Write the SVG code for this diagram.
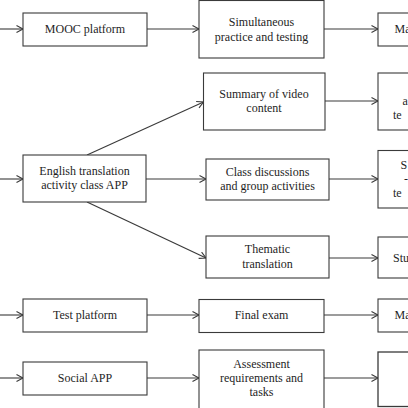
<svg xmlns="http://www.w3.org/2000/svg" width="408" height="408" viewBox="0 0 408 408">
<style>
  .box { fill: #ffffff; stroke: #3a3a3a; stroke-width: 1.1; }
  .lbl { font-family: "Liberation Serif", "Times New Roman", serif; font-size: 12px; fill: #1e1e1e; text-anchor: middle; }
  .frag { font-family: "Liberation Serif", "Times New Roman", serif; font-size: 12px; fill: #1e1e1e; }
  .conn { stroke: #3a3a3a; stroke-width: 1.1; fill: none; marker-end: url(#arr); }
</style>
<defs>
  <marker id="arr" markerUnits="userSpaceOnUse" markerWidth="9" markerHeight="9" refX="7" refY="4" orient="auto">
    <path d="M0.5,0.5 L7,4 L0.5,7.5" fill="none" stroke="#3a3a3a" stroke-width="1.1"/>
  </marker>
</defs>
<rect width="408" height="408" fill="#ffffff"/>

<g id="connectors">
  <line class="conn" x1="0" y1="29" x2="23" y2="29"/>
  <line class="conn" x1="147" y1="29" x2="199" y2="29"/>
  <line class="conn" x1="324" y1="29" x2="378" y2="29"/>
  <line class="conn" x1="87" y1="155" x2="203.5" y2="102"/>
  <line class="conn" x1="325" y1="101" x2="378" y2="101"/>
  <line class="conn" x1="0" y1="179" x2="23" y2="179"/>
  <line class="conn" x1="146" y1="179" x2="206" y2="179"/>
  <line class="conn" x1="329" y1="179" x2="378" y2="179"/>
  <line class="conn" x1="87" y1="202" x2="206" y2="258"/>
  <line class="conn" x1="329" y1="258" x2="378" y2="258"/>
  <line class="conn" x1="0" y1="315" x2="23" y2="315"/>
  <line class="conn" x1="147" y1="315" x2="199" y2="315"/>
  <line class="conn" x1="324" y1="315" x2="378" y2="315"/>
  <line class="conn" x1="0" y1="378" x2="23" y2="378"/>
  <line class="conn" x1="147" y1="378" x2="199" y2="378"/>
  <line class="conn" x1="324" y1="378" x2="378" y2="378"/>
</g>

<g id="mooc">
  <rect class="box" x="23" y="13" width="124" height="33"/>
  <text class="lbl" x="85" y="33">MOOC platform</text>
</g>
<g id="simultaneous">
  <rect class="box" x="199" y="0.5" width="125" height="57.5"/>
  <text class="lbl" x="261.5" y="26">Simultaneous</text>
  <text class="lbl" x="261.5" y="41">practice and testing</text>
</g>
<g id="right1">
  <rect class="box" x="378" y="13" width="60" height="33"/>
  <text class="frag" x="394.5" y="33">Ma</text>
</g>

<g id="summary">
  <rect class="box" x="203.5" y="73" width="121.5" height="57"/>
  <text class="lbl" x="264" y="98">Summary of video</text>
  <text class="lbl" x="264" y="112">content</text>
</g>
<g id="right2">
  <rect class="box" x="378" y="73" width="60" height="57"/>
  <text class="frag" x="402.5" y="105">a</text>
  <text class="frag" x="393" y="119">te</text>
</g>

<g id="english">
  <rect class="box" x="23" y="155" width="123" height="47"/>
  <text class="lbl" x="84.5" y="175">English translation</text>
  <text class="lbl" x="84.5" y="189">activity class APP</text>
</g>
<g id="class">
  <rect class="box" x="206" y="159" width="123" height="41"/>
  <text class="lbl" x="267.5" y="176">Class discussions</text>
  <text class="lbl" x="267.5" y="190">and group activities</text>
</g>
<g id="right3">
  <rect class="box" x="378" y="150.5" width="60" height="57.5"/>
  <text class="frag" x="400.5" y="169">S</text>
  <text class="frag" x="404" y="183">-</text>
  <text class="frag" x="393" y="197">te</text>
</g>

<g id="thematic">
  <rect class="box" x="206" y="236" width="123" height="42"/>
  <text class="lbl" x="267.5" y="253">Thematic</text>
  <text class="lbl" x="267.5" y="268">translation</text>
</g>
<g id="right4">
  <rect class="box" x="378" y="237" width="60" height="41"/>
  <text class="frag" x="393" y="262">Stu</text>
</g>

<g id="test">
  <rect class="box" x="23" y="299" width="124" height="33"/>
  <text class="lbl" x="85" y="319">Test platform</text>
</g>
<g id="final">
  <rect class="box" x="199" y="299.5" width="125" height="33"/>
  <text class="lbl" x="261.5" y="319">Final exam</text>
</g>
<g id="right5">
  <rect class="box" x="378" y="299" width="60" height="33"/>
  <text class="frag" x="394.5" y="319">Ma</text>
</g>

<g id="social">
  <rect class="box" x="23" y="362" width="124" height="33"/>
  <text class="lbl" x="85" y="382">Social APP</text>
</g>
<g id="assessment">
  <rect class="box" x="199" y="350" width="125" height="64"/>
  <text class="lbl" x="261.5" y="368">Assessment</text>
  <text class="lbl" x="261.5" y="382">requirements and</text>
  <text class="lbl" x="261.5" y="396">tasks</text>
</g>
<g id="right6">
  <rect class="box" x="378" y="352" width="60" height="54.5" style="stroke-width:1.3"/>
</g>
</svg>
